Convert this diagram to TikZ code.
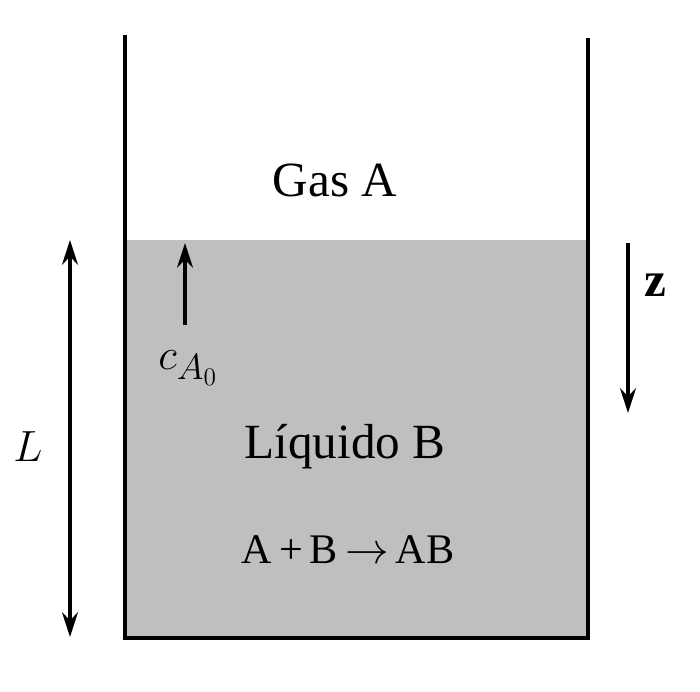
\documentclass[tikz,border=0pt]{standalone}
\usepackage{fontspec}
\setmainfont{Liberation Serif}
\usetikzlibrary{arrows.meta}
\begin{document}
\begin{tikzpicture}[x=0.02cm,y=-0.02cm,
  wall/.style={line width=2.8pt},
  arr/.style={line width=2.2pt,-{Stealth[length=14pt,width=9pt]}},
  lbl/.style={font=\fontsize{28}{32}\selectfont}]
\useasboundingbox (0,0) rectangle (700,692);
\fill[gray!50] (125,240) rectangle (588,638);
\draw[wall] (125,35) -- (125,638) -- (588,638) -- (588,38);
\node[lbl] (gas) at (335,180) {Gas A};
\node[lbl] (liq) at (345,447) {Líquido B};
\node[font=\fontsize{24}{28}\selectfont] (rx) at (348,550) {A\,+\,B\,$\rightarrow$\,AB};
\coordinate (la) at (70,240); \coordinate (lb) at (70,637);
\draw[line width=2.2pt,{Stealth[length=14pt,width=9pt]}-{Stealth[length=14pt,width=9pt]}] (la) -- (lb);
\node[font=\fontsize{32}{36}\selectfont] (L) at (28,447) {$L$};
\coordinate (ca) at (185,325); \coordinate (cb) at (185,243);
\draw[arr] (ca) -- (cb);
\node[lbl] (c) at (188,368) {$c_{A_0}$};
\coordinate (za) at (628,243); \coordinate (zb) at (628,413);
\draw[arr] (za) -- (zb);
\node[lbl,font=\fontsize{28}{32}\selectfont\bfseries] (z) at (655,285) {z};
\end{tikzpicture}
\end{document}
